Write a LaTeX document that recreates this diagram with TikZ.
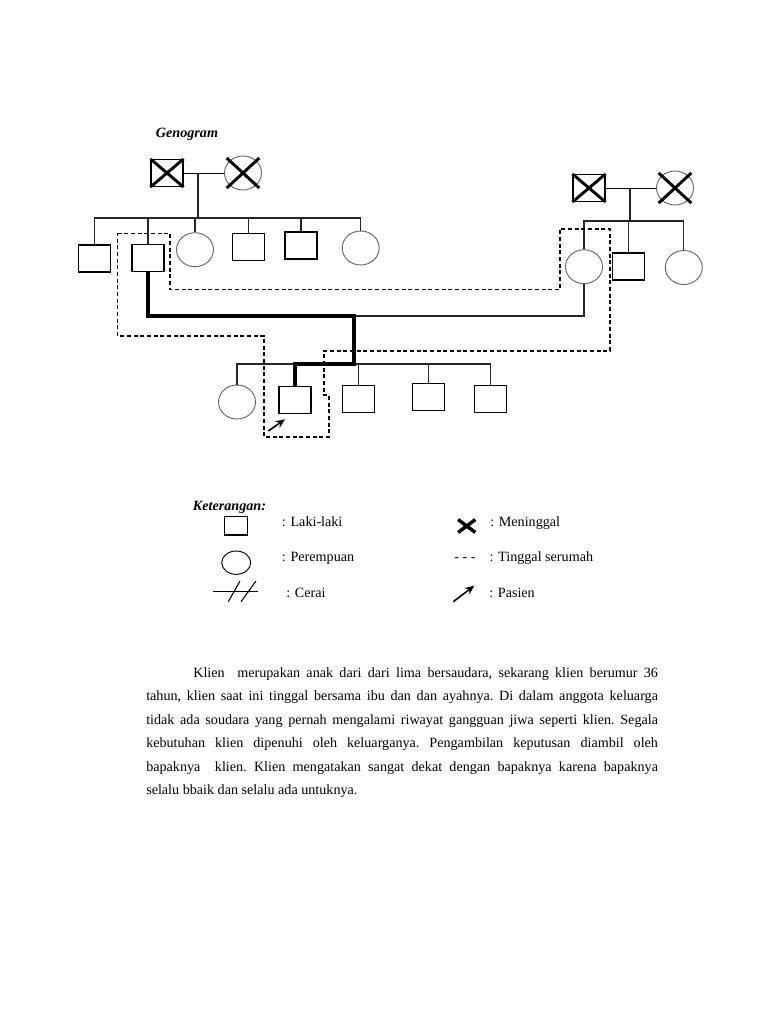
\documentclass[tikz,border=0pt]{standalone}
\usepackage{fontspec}
\setmainfont{Liberation Serif}
\usetikzlibrary{positioning}
\usetikzlibrary{shapes.geometric, arrows, arrows.meta}
\tikzstyle{male} = [rectangle, draw=black, line width=0.9pt, minimum width=24pt, minimum height=20.25pt, inner sep=0pt]
\tikzstyle{female} = [ellipse, draw=black!60, line width=0.7pt, minimum width=27.75pt, minimum height=25.5pt, inner sep=0pt]
\tikzstyle{link} = [line width=0.85pt, draw=black!85]
\tikzstyle{boldline} = [line width=2.4pt, draw=black]
\tikzstyle{dead} = [line width=2.2pt, draw=black]
\tikzstyle{house} = [line width=0.8pt, dash pattern=on 3pt off 2pt]
\tikzstyle{arrow} = [line width=1.2pt,-{Stealth[length=7pt,width=6pt]}]
\tikzstyle{txt} = [inner sep=0pt, anchor=base west, font=\fontsize{10.6}{12.7}\selectfont]

\begin{document}
\begin{tikzpicture}[x=0.75pt,y=-0.75pt]
      \useasboundingbox (0,0) rectangle (768,1024);
      \node (title) [txt] at (155.7,137.5) {\textbf{\textit{Genogram}}};
      %%%%%%%%%%%%%%%%%%%%%%%%%%%%%%%%%%%%%%%
      % grandparents
      \draw (167,173) node (gf1) [male] {};
      \draw (243,173) node (gm1) [female] {};
      \draw (589,188) node (gf2) [male] {};
      \draw (675,188) node (gm2) [female] {};
      \draw (gf1.east)--(gm1.west);
      \draw (gf2.east)--(gm2.west);
      \draw[dead] (gf1.north west)--(gf1.south east);
      \draw[dead] (gf1.south west)--(gf1.north east);
      \draw[dead,shorten <=-3pt,shorten >=-3pt] (gm1.north west)--(gm1.south east);
      \draw[dead,shorten <=-3pt,shorten >=-3pt] (gm1.south west)--(gm1.north east);
      \draw[dead] (gf2.north west)--(gf2.south east);
      \draw[dead] (gf2.south west)--(gf2.north east);
      \draw[dead,shorten <=-3pt,shorten >=-3pt] (gm2.north west)--(gm2.south east);
      \draw[dead,shorten <=-3pt,shorten >=-3pt] (gm2.south west)--(gm2.north east);
      \coordinate (j1) at (198,173);
      \coordinate (s1) at (198,218);
      \coordinate (j2) at (630,188);
      \coordinate (s2) at (630,221);
      %%%%%%%%%%%%%%%%%%%%%%%%%%%%%%%%%%%%%%%
      % second generation
      \draw (94.5,258.5) node (a1) [male] {};
      \draw (148,258) node (a2) [male] {};
      \draw (195,249.7) node (a3) [female] {};
      \draw (248.7,247.2) node (a4) [male] {};
      \draw (301,245.4) node (a5) [male] {};
      \draw (360.7,248) node (a6) [female] {};
      \draw (584,266.7) node (b1) [female] {};
      \draw (628.3,266.5) node (b2) [male] {};
      \draw (683.8,267.5) node (b3) [female] {};
      \draw[link] (j1)--(s1);
      \draw[link] (a1.north)--(a1.north |- s1)--(a6.north |- s1)--(a6.north);
      \draw[link] (a2.north)--(a2.north |- s1);
      \draw[link] (a3.north)--(a3.north |- s1);
      \draw[link] (a4.north)--(a4.north |- s1);
      \draw[link] (a5.north)--(a5.north |- s1);
      \draw[link] (j2)--(s2);
      \draw[link] (b1.north)--(b1.north |- s2)--(b3.north |- s2)--(b3.north);
      \draw[link] (b2.north)--(b2.north |- s2);
      %%%%%%%%%%%%%%%%%%%%%%%%%%%%%%%%%%%%%%%
      % third generation
      \draw (237,402) node (c1) [female] {};
      \draw (295,399.7) node (c2) [male] {};
      \draw (358.8,398.7) node (c3) [male] {};
      \draw (428.3,397.2) node (c4) [male] {};
      \draw (490.7,398.7) node (c5) [male] {};
      \coordinate (m1) at (148,316);
      \coordinate (m2) at (354,316);
      \coordinate (s3) at (354,364);
      \draw[link] (m2)--(m2 -| b1.south)--(b1.south);
      \draw[link] (c1.north)--(c1.north |- s3)--(c5.north |- s3)--(c5.north);
      \draw[link] (c3.north)--(c3.north |- s3);
      \draw[link] (c4.north)--(c4.north |- s3);
      \draw[boldline] (a2.south)--(m1)--(m2)--(s3)--(s3 -| c2.north)--(c2.north);
      % tinggal serumah
      \draw[house] (117.7,233.3)--(170,233.3)--(170,289.3)--(560,289.3)--(560,229)--(610,229)
            --(610,351)--(324,351)--(324,395)--(329,395)--(329,437)--(264,437)--(264,336)
            --(117.7,336)--cycle;
      \coordinate (pa) at (268.3,431);
      \coordinate (pb) at (285,419.3);
      \draw[arrow] (pa)--(pb);
      %%%%%%%%%%%%%%%%%%%%%%%%%%%%%%%%%%%%%%%
      % keterangan
      \node (ket) [txt] at (192.7,510) {\textbf{\textit{Keterangan:}}};
      \draw (236,525.8) node (lmale) [male, minimum width=17.5pt, minimum height=13.7pt] {};
      \draw (236.2,562.7) node (lfem) [female, draw=black, minimum width=21.75pt, minimum height=17.5pt] {};
      \coordinate (ca) at (213.3,591.7);
      \coordinate (cb) at (258.3,591.7);
      \draw[line width=0.8pt] (ca)--(cb);
      \draw[line width=0.8pt] (228.3,601.7)--(240,581);
      \draw[line width=0.8pt] (241,601.7)--(256,581);
      \draw (466.7,526) node (lx) [minimum width=12.5pt, minimum height=9.2pt, inner sep=0pt] {};
      \draw[dead, line width=2.6pt] (lx.north west)--(lx.south east);
      \draw[dead, line width=2.6pt] (lx.south west)--(lx.north east);
      \node (ldash) [txt] at (454,561.5) {- - -};
      \coordinate (la) at (453.3,601.7);
      \coordinate (lb) at (474.3,585.7);
      \draw[arrow] (la)--(lb);
      \node (t1) [txt] at (281.7,526.5) {: Laki-laki};
      \node (t2) [txt] at (281.7,561.7) {: Perempuan};
      \node (t3) [txt] at (286,597.3) {: Cerai};
      \node (t4) [txt] at (490,526.5) {: Meninggal};
      \node (t5) [txt] at (489.3,561.5) {: Tinggal serumah};
      \node (t6) [txt] at (489,597) {: Pasien};
      %%%%%%%%%%%%%%%%%%%%%%%%%%%%%%%%%%%%%%%
      \node (para) [inner sep=0pt, anchor=base west, text width=383.8pt, align=justify,
            font=\fontsize{10.6}{17.55}\selectfont] at (146,677.5)
            {\frenchspacing\hyphenpenalty=10000\tolerance=10000\hspace*{35.3pt}Klien~ merupakan anak dari dari lima bersaudara, sekarang klien berumur 36\linebreak
            tahun, klien saat ini tinggal bersama ibu dan dan ayahnya. Di dalam anggota keluarga\linebreak
            tidak ada soudara yang pernah mengalami riwayat gangguan jiwa seperti klien. Segala\linebreak
            kebutuhan klien dipenuhi oleh keluarganya. Pengambilan keputusan diambil oleh\linebreak
            bapaknya~ klien. Klien mengatakan sangat dekat dengan bapaknya karena bapaknya\linebreak
            selalu bbaik dan selalu ada untuknya.};
\end{tikzpicture}
\end{document}
